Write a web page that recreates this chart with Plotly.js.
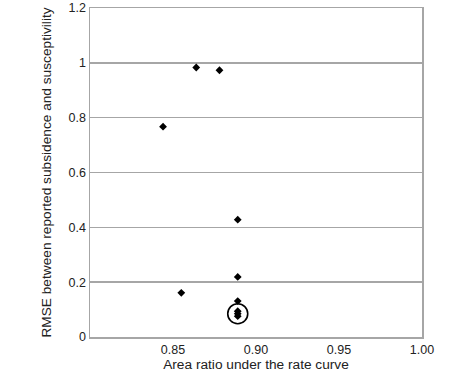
<!DOCTYPE html>
<html><head><meta charset="utf-8">
<script src="https://cdn.plot.ly/plotly-3.0.1.min.js"></script>
<style>html,body{margin:0;padding:0;background:#fff}#c{width:474px;height:387px}</style>
</head><body><div id="c"></div>
<script>
const areaRatio = [0.864, 0.878, 0.844, 0.889, 0.889, 0.855, 0.889, 0.889, 0.889, 0.889];
const rmse = [0.983, 0.973, 0.767, 0.428, 0.219, 0.161, 0.131, 0.094, 0.085, 0.076];
const highlightX = [0.889];
const highlightY = [0.085];
const xTicks = [0.85, 0.90, 0.95, 1.00];
const xTickText = ["0.85", "0.90", "0.95", "1.00"];
const yTicks = [0, 0.2, 0.4, 0.6, 0.8, 1, 1.2];
const yTickText = ["0", "0.2", "0.4", "0.6", "0.8", "1", "1.2"];

const tickFont = {family: "Liberation Sans, Arial, sans-serif", size: 12.5, color: "#222"};
const titleFont = {family: "Liberation Sans, Arial, sans-serif", size: 13.7, color: "#222"};
const data = [
  {x: areaRatio, y: rmse, type: "scatter", mode: "markers",
   marker: {symbol: "diamond", size: 6, color: "#000"}, hoverinfo: "none"},
  {x: highlightX, y: highlightY, type: "scatter", mode: "markers",
   marker: {symbol: "circle-open", size: 20, color: "#000", line: {width: 1.6, color: "#000"}}, hoverinfo: "none"}
];
const layout = {
  width: 474, height: 387, showlegend: false,
  margin: {l: 90, r: 52, t: 8, b: 50},
  paper_bgcolor: "#fff", plot_bgcolor: "#fff", font: tickFont,
  xaxis: {range: [0.8, 1.0], tickvals: xTicks, ticktext: xTickText,
    showgrid: false, zeroline: false, showline: true, mirror: true,
    linecolor: "#a6a6a6", linewidth: 1.5, ticks: "", tickfont: tickFont,
    ticklabeloverflow: "allow",
    title: {text: "Area ratio under the rate curve", font: titleFont, standoff: 4}},
  yaxis: {range: [0, 1.2], tickvals: yTicks, ticktext: yTickText,
    showgrid: true, gridcolor: "#a6a6a6", gridwidth: 1.5, zeroline: false,
    showline: true, mirror: true, linecolor: "#a6a6a6", linewidth: 1.5,
    ticks: "", tickfont: tickFont, ticklabeloverflow: "allow",
    title: {text: "RMSE between reported subsidence and susceptivility", font: titleFont, standoff: 14}}
};
Plotly.newPlot("c", data, layout, {staticPlot: true});
</script></body></html>
